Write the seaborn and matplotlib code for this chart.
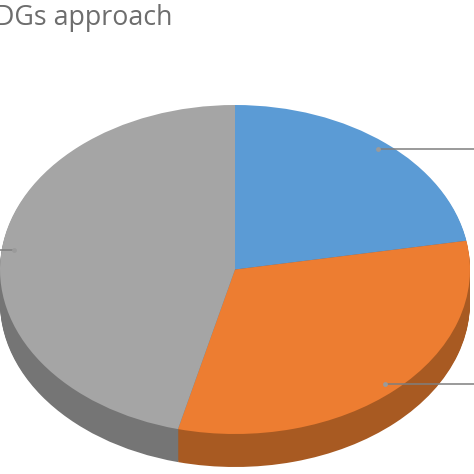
import matplotlib
matplotlib.use("Agg")
import matplotlib.pyplot as plt
import seaborn as sns

# share of each slice (clockwise from top)
slice_names = ["Blue", "Orange", "Gray"]
slice_values = [22.2, 31.7, 46.1]
top_colors = ["#5b9bd5", "#ed7d31", "#a5a5a5"]
wall_colors = ["#3f6f9e", "#a85a22", "#757575"]
title_text = "DGs approach"

sns.set_theme(style="white")
plt.rcParams["font.family"] = ["Open Sans", "DejaVu Sans"]

fig = plt.figure(figsize=(4.74, 4.74), dpi=100)
ax = fig.add_axes([0, 0, 1, 1])

# the pie is drawn as a unit circle, the axis limits squash it to an ellipse
rx = 235.0
ry = 164.5
cx = 235.0
cy = 269.5
depth = 33

# side wall: stack of the same pie going down, one pixel each
for d in range(depth, 0, -1):
    ax.pie(slice_values, colors=sns.color_palette(wall_colors), startangle=90,
           counterclock=False, center=(0, -d / ry), radius=1,
           wedgeprops={"linewidth": 0})

ax.pie(slice_values, colors=sns.color_palette(top_colors), startangle=90,
       counterclock=False, center=(0, 0), radius=1,
       wedgeprops={"linewidth": 0})

ax.set_aspect("auto")
ax.set_xlim(-cx / rx, (474 - cx) / rx)
ax.set_ylim(-(474 - cy) / ry, cy / ry)
ax.axis("off")

# leader lines, in figure pixels (y from top)
leaders = [(378, 149, 474), (385, 384, 474), (14, 250, 0)]
for x0, y0, x1 in leaders:
    ax.plot([x0 / 474, x1 / 474], [1 - y0 / 474, 1 - y0 / 474], color="#7f7f7f", lw=1.1,
            transform=ax.transAxes, zorder=10, clip_on=False)
    ax.plot([x0 / 474], [1 - y0 / 474], "o", color="#9a9a9a", ms=3.5, mew=0,
            transform=ax.transAxes, zorder=11, clip_on=False)

fig.text(172 / 474, 1 - 25.5 / 474, title_text, ha="right", va="baseline", fontsize=19.3, color="#6d6d6d")

fig.savefig("out.png", dpi=100, facecolor="white")
